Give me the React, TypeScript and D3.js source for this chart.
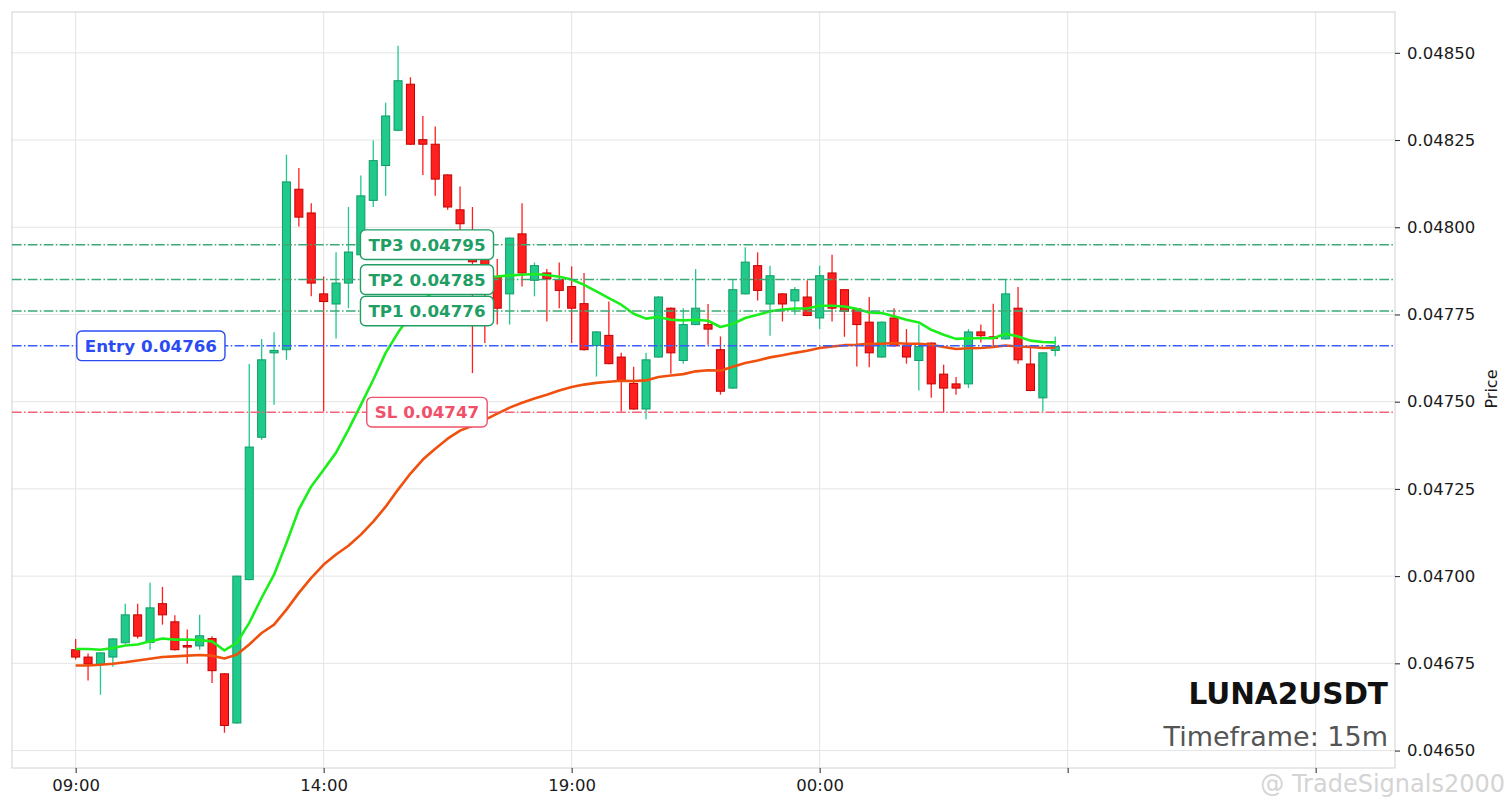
import React, {useEffect, useRef} from 'react';
import * as d3 from 'd3';

// 15m candles, first one at 09:00
const startHour = 9;
const opens = [0.046789,0.046768,0.046748,0.046768,0.046809,0.046889,0.046810,0.046921,0.046869,0.046801,
  0.046800,0.046821,0.046720,0.046579,0.046990,0.047398,0.047640,0.047649,0.048109,0.048041,
  0.047809,0.047780,0.047840,0.047921,0.048077,0.048177,0.048278,0.048410,0.048251,0.048238,
  0.048150,0.048050,0.047950,0.047913,0.047859,0.047809,0.047981,0.047848,0.047869,0.047850,
  0.047830,0.047781,0.047661,0.047690,0.047628,0.047552,0.047479,0.047628,0.047768,0.047618,
  0.047721,0.047721,0.047649,0.047539,0.047809,0.047890,0.047780,0.047809,0.047789,0.047800,
  0.047740,0.047869,0.047821,0.047766,0.047728,0.047628,0.047740,0.047660,0.047618,0.047668,
  0.047579,0.047551,0.047551,0.047700,0.047686,0.047680,0.047768,0.047608,0.047511,0.047647];
const highs = [0.046820,0.046778,0.046781,0.046822,0.046921,0.046921,0.046981,0.046969,0.046888,0.046847,
  0.046889,0.046828,0.046722,0.047001,0.047608,0.047680,0.047699,0.048208,0.048170,0.048069,
  0.047859,0.047928,0.048058,0.048148,0.048249,0.048357,0.048520,0.048430,0.048319,0.048289,
  0.048152,0.048117,0.048058,0.047921,0.047909,0.047970,0.048069,0.047899,0.047880,0.047899,
  0.047888,0.047869,0.047702,0.047787,0.047640,0.047600,0.047640,0.047802,0.047770,0.047768,
  0.047880,0.047780,0.047687,0.047850,0.047943,0.047928,0.047890,0.047811,0.047829,0.047848,
  0.047890,0.047921,0.047823,0.047768,0.047800,0.047730,0.047768,0.047708,0.047721,0.047670,
  0.047606,0.047571,0.047708,0.047721,0.047781,0.047850,0.047829,0.047658,0.047642,0.047687];
const lows = [0.046761,0.046701,0.046660,0.046740,0.046806,0.046821,0.046789,0.046861,0.046787,0.046749,
  0.046789,0.046694,0.046551,0.046577,0.046988,0.047391,0.047491,0.047620,0.048002,0.047802,
  0.047472,0.047681,0.047768,0.047920,0.048058,0.048090,0.048275,0.048236,0.048150,0.048090,
  0.048050,0.047987,0.047582,0.047668,0.047721,0.047721,0.047830,0.047802,0.047730,0.047768,
  0.047668,0.047647,0.047572,0.047607,0.047472,0.047477,0.047450,0.047626,0.047580,0.047609,
  0.047719,0.047663,0.047520,0.047537,0.047807,0.047790,0.047689,0.047730,0.047749,0.047745,
  0.047708,0.047730,0.047686,0.047601,0.047599,0.047626,0.047658,0.047609,0.047532,0.047511,
  0.047469,0.047520,0.047539,0.047670,0.047660,0.047678,0.047609,0.047530,0.047472,0.047630];
const closes = [0.046768,0.046748,0.046780,0.046820,0.046889,0.046828,0.046909,0.046889,0.046789,0.046799,
  0.046829,0.046729,0.046572,0.047000,0.047370,0.047620,0.047647,0.048130,0.048029,0.047840,
  0.047787,0.047840,0.047929,0.048090,0.048191,0.048319,0.048420,0.048238,0.048238,0.048138,
  0.048058,0.048010,0.047901,0.047815,0.047768,0.047969,0.047869,0.047890,0.047852,0.047819,
  0.047768,0.047649,0.047700,0.047609,0.047561,0.047479,0.047620,0.047800,0.047640,0.047721,
  0.047768,0.047708,0.047530,0.047821,0.047900,0.047819,0.047861,0.047780,0.047821,0.047747,
  0.047861,0.047768,0.047759,0.047721,0.047640,0.047728,0.047660,0.047628,0.047658,0.047551,
  0.047539,0.047539,0.047700,0.047689,0.047681,0.047809,0.047620,0.047532,0.047640,0.047658];

// moving averages
const maFast = [0.046791,0.046791,0.046789,0.046794,0.046801,0.046804,0.046813,0.046821,0.046818,0.046818,
  0.046817,0.046813,0.046787,0.046809,0.046866,0.046938,0.047004,0.047095,0.047191,0.047257,
  0.047305,0.047354,0.047420,0.047491,0.047563,0.047640,0.047698,0.047749,0.047792,0.047818,
  0.047835,0.047847,0.047855,0.047858,0.047859,0.047862,0.047864,0.047866,0.047863,0.047858,
  0.047850,0.047835,0.047816,0.047797,0.047778,0.047752,0.047738,0.047743,0.047735,0.047733,
  0.047735,0.047732,0.047714,0.047723,0.047740,0.047749,0.047759,0.047764,0.047767,0.047767,
  0.047775,0.047775,0.047773,0.047766,0.047756,0.047754,0.047745,0.047735,0.047727,0.047706,
  0.047692,0.047680,0.047682,0.047682,0.047682,0.047695,0.047687,0.047675,0.047671,0.047670];
const maSlow = [0.046744,0.046744,0.046746,0.046749,0.046753,0.046758,0.046763,0.046768,0.046770,0.046772,
  0.046774,0.046772,0.046764,0.046775,0.046804,0.046837,0.046861,0.046904,0.046952,0.046995,
  0.047033,0.047062,0.047087,0.047119,0.047156,0.047199,0.047248,0.047294,0.047334,0.047365,
  0.047394,0.047417,0.047431,0.047448,0.047466,0.047483,0.047497,0.047509,0.047520,0.047532,
  0.047542,0.047549,0.047554,0.047557,0.047560,0.047559,0.047561,0.047571,0.047575,0.047579,
  0.047587,0.047590,0.047589,0.047600,0.047611,0.047618,0.047627,0.047633,0.047640,0.047646,
  0.047654,0.047658,0.047662,0.047663,0.047666,0.047666,0.047668,0.047666,0.047666,0.047663,
  0.047657,0.047651,0.047653,0.047654,0.047657,0.047661,0.047658,0.047657,0.047654,0.047655];

const levelNames = ['TP3', 'TP2', 'TP1', 'Entry', 'SL'];
const levelValues = [0.04795, 0.04785, 0.04776, 0.04766, 0.04747];

const yTicks = [0.0465, 0.04675, 0.047, 0.04725, 0.0475, 0.04775, 0.048, 0.04825, 0.0485];
const xTickLabels = ['09:00', '14:00', '19:00', '00:00', '', ''];

const symbol = 'LUNA2USDT';
const timeframe = '15m';

const W = 1512, H = 808;
const left = 12, right = 1395, top = 12, bottom = 768;
const FONT = 'DejaVu Sans';

const levelColor = (name: string) =>
  name === 'Entry' ? '#2b4cf2' : name === 'SL' ? '#f0506a' : '#219e64';
const levelLineColor = (name: string) =>
  name === 'Entry' ? '#3a5cff' : name === 'SL' ? '#f2647a' : '#3aaa74';

const App = () => {
  const svgRef = useRef<SVGSVGElement>(null);

  useEffect(() => {
    const svg = d3.select(svgRef.current);
    svg.selectAll('*').remove();

    const t0 = new Date(2024, 0, 1, startHour, 0);
    const times = opens.map((_, i) => d3.timeMinute.offset(t0, 15 * i));

    const x = d3.scaleTime()
      .domain([d3.timeMinute.offset(t0, -76.2), d3.timeMinute.offset(t0, 1596.8)])
      .range([left, right]);
    const y = d3.scaleLinear().domain([0.04645, 0.048617]).range([bottom, top]);
    const xTicks = xTickLabels.map((_, k) => d3.timeHour.offset(t0, 5 * k));
    const step = x(times[1]) - x(times[0]);

    svg.append('rect').attr('width', W).attr('height', H).attr('fill', '#fff');

    // grid
    const grid = svg.append('g').attr('stroke', '#e4e4e4').attr('stroke-width', 1);
    grid.selectAll('.gy').data(yTicks).join('line')
      .attr('x1', left).attr('x2', right)
      .attr('y1', d => y(d)).attr('y2', d => y(d));
    grid.selectAll('.gx').data(xTicks).join('line')
      .attr('x1', d => x(d)).attr('x2', d => x(d))
      .attr('y1', top).attr('y2', bottom);

    svg.append('rect')
      .attr('x', left).attr('y', top).attr('width', right - left).attr('height', bottom - top)
      .attr('fill', 'none').attr('stroke', '#d2d2d2').attr('stroke-width', 1);

    // candles
    const bodyW = step * 0.65;
    const candles = svg.append('g').selectAll('g').data(times).join('g');
    candles.append('line')
      .attr('x1', d => x(d)).attr('x2', d => x(d))
      .attr('y1', (_, i) => y(highs[i])).attr('y2', (_, i) => y(lows[i]))
      .attr('stroke', (_, i) => closes[i] >= opens[i] ? '#1fca8a' : '#ff1f1f')
      .attr('stroke-width', 1.3);
    candles.append('rect')
      .attr('x', d => x(d) - bodyW / 2)
      .attr('width', bodyW)
      .attr('y', (_, i) => y(Math.max(opens[i], closes[i])))
      .attr('height', (_, i) => Math.max(1.5, Math.abs(y(opens[i]) - y(closes[i]))))
      .attr('fill', (_, i) => closes[i] >= opens[i] ? '#1fca8a' : '#ff1f1f')
      .attr('stroke', (_, i) => closes[i] >= opens[i] ? '#119c66' : '#c40000')
      .attr('stroke-width', 1);

    // moving averages
    const ln = d3.line<number>().x((_, i) => x(times[i])).y(d => y(d));
    svg.append('path').attr('d', ln(maSlow)!).attr('fill', 'none')
      .attr('stroke', '#f0500e').attr('stroke-width', 2.6).attr('stroke-linejoin', 'round');
    svg.append('path').attr('d', ln(maFast)!).attr('fill', 'none')
      .attr('stroke', '#1cee1c').attr('stroke-width', 2.6).attr('stroke-linejoin', 'round');

    // level lines
    svg.append('g').selectAll('line').data(levelValues).join('line')
      .attr('x1', left).attr('x2', right)
      .attr('y1', d => y(d)).attr('y2', d => y(d))
      .attr('stroke', (_, i) => levelLineColor(levelNames[i]))
      .attr('stroke-width', 1.5)
      .attr('stroke-dasharray', '9.6 2.4 1.5 2.4');

    // level labels
    levelNames.forEach((name, i) => {
      const cx = name === 'Entry' ? x(d3.timeMinute.offset(t0, 91)) : x(d3.timeMinute.offset(t0, 425));
      const g = svg.append('g');
      const txt = g.append('text')
        .attr('x', cx).attr('y', y(levelValues[i]))
        .attr('text-anchor', 'middle').attr('dy', '0.36em')
        .attr('font-family', FONT).attr('font-weight', 'bold').attr('font-size', 16.7)
        .attr('fill', levelColor(name))
        .text(`${name} ${levelValues[i].toFixed(5)}`);
      const bb = (txt.node() as SVGTextElement).getBBox();
      g.insert('rect', 'text')
        .attr('x', bb.x - 8).attr('y', y(levelValues[i]) - 14.8)
        .attr('width', bb.width + 16).attr('height', 29.6)
        .attr('rx', 5).attr('fill', '#fff')
        .attr('stroke', levelColor(name)).attr('stroke-width', 1.4);
    });

    // axes
    const yAxis = d3.axisRight(y).tickValues(yTicks).tickFormat(d3.format('.5f')).tickSize(5).tickPadding(7);
    const ya = svg.append('g').attr('transform', `translate(${right},0)`).call(yAxis);
    const xAxis = d3.axisBottom(x).tickValues(xTicks).tickFormat((_, k) => xTickLabels[k]).tickSize(5).tickPadding(6);
    const xa = svg.append('g').attr('transform', `translate(0,${bottom})`).call(xAxis);
    [ya, xa].forEach(a => {
      a.select('.domain').remove();
      a.selectAll('line').attr('stroke', '#222');
      a.selectAll('text').attr('font-family', FONT).attr('font-size', 16.5).attr('fill', '#1a1a1a');
    });

    svg.append('text')
      .attr('transform', `translate(1497,389) rotate(-90)`)
      .attr('text-anchor', 'middle')
      .attr('font-family', FONT).attr('font-size', 16).attr('fill', '#1a1a1a')
      .text('Price');

    svg.append('text')
      .attr('x', 1388).attr('y', 704).attr('text-anchor', 'end')
      .attr('font-family', FONT).attr('font-weight', 'bold').attr('font-size', 29.5).attr('fill', '#111')
      .text(symbol);
    svg.append('text')
      .attr('x', 1388).attr('y', 746).attr('text-anchor', 'end')
      .attr('font-family', FONT).attr('font-size', 27).attr('fill', '#555')
      .text(`Timeframe: ${timeframe}`);

    svg.append('text')
      .attr('x', 1505).attr('y', 792).attr('text-anchor', 'end')
      .attr('font-family', FONT).attr('font-size', 24).attr('fill', '#d4d4d4')
      .text('@ TradeSignals2000');
  }, []);

  return (
    <svg ref={svgRef} width={W} height={H} viewBox={`0 0 ${W} ${H}`}
      style={{position: 'absolute', left: 0, top: 0, display: 'block'}} />
  );
};

export default App;
